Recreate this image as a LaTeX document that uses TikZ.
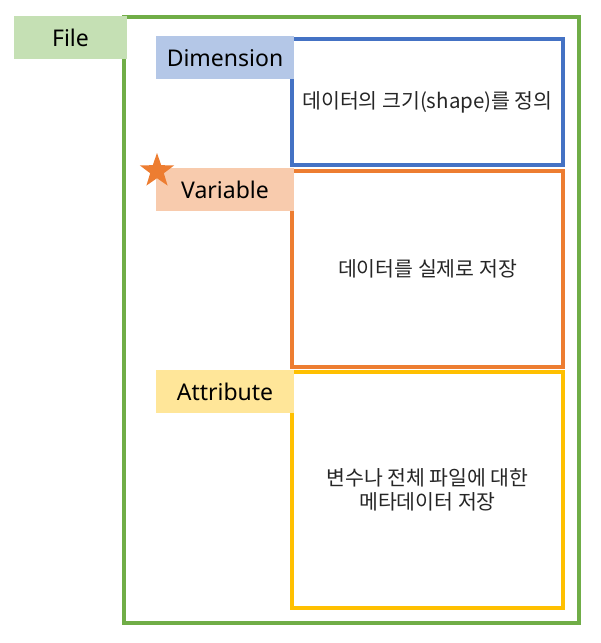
\documentclass[tikz,border=0pt]{standalone}
\usepackage{fontspec}
\setmainfont{Noto Sans}
\newfontfamily\kr{Noto Sans CJK KR}
\usetikzlibrary{shapes.geometric}
\definecolor{fileC}{HTML}{70AD47}
\definecolor{fileF}{HTML}{C5E0B4}
\definecolor{dimC}{HTML}{4472C4}
\definecolor{dimF}{HTML}{B4C7E7}
\definecolor{varC}{HTML}{ED7D31}
\definecolor{varF}{HTML}{F8CBAD}
\definecolor{attC}{HTML}{FFC000}
\definecolor{attF}{HTML}{FFE699}
\definecolor{txt}{HTML}{262626}
\tikzset{
  frame/.style={draw=#1, line width=4pt, inner sep=0pt, outer sep=0pt,
    font=\kr\fontsize{20.5}{24}\selectfont, text=txt, align=center},
  tag/.style={fill=#1, inner sep=0pt, outer sep=0pt, minimum height=43pt,
    font=\fontsize{23}{26}\selectfont, text height=18.4pt, text depth=0pt}
}
\begin{document}
\begin{tikzpicture}[x=1pt,y=-1pt]
\useasboundingbox (0,0) rectangle (601,643);
\node[frame=fileC, minimum width=455pt, minimum height=606pt] (filebox) at (351.5,320) {};
\node[frame=dimC, minimum width=271pt, minimum height=126pt] (dimbox) at (427.5,102) {데이터의 크기(shape)를 정의};
\node[frame=varC, minimum width=271pt, minimum height=196pt] (varbox) at (427.5,269) {데이터를 실제로 저장};
\node[frame=attC, minimum width=271pt, minimum height=235.5pt] (attbox) at (427.5,489.75) {변수나 전체 파일에 대한\\메타데이터 저장};
\node[tag=fileF, minimum width=113pt] (filetag) at (70.5,37.5) {File};
\node[tag=dimF, minimum width=138pt] (dimtag) at (225,57.5) {Dimension};
\node[tag=varF, minimum width=138pt] (vartag) at (225,189.5) {Variable};
\node[tag=attF, minimum width=138pt] (atttag) at (225,391.5) {Attribute};
\node[star, star points=5, star point ratio=2.5, fill=varC, inner sep=0pt, minimum size=36pt] (mark) at (157,171) {};
\end{tikzpicture}
\end{document}
